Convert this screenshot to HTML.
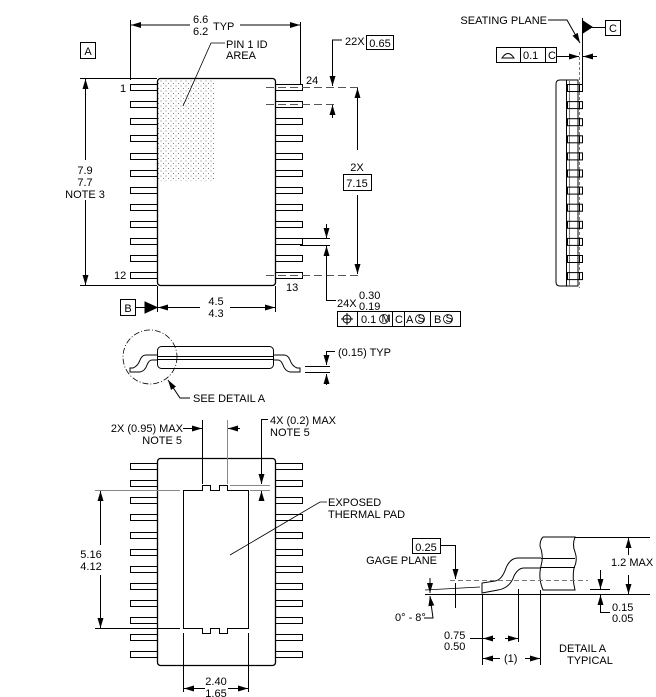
<!DOCTYPE html>
<html><head><meta charset="utf-8"><style>
html,body{margin:0;padding:0;background:#fff}
svg{display:block}
text{font-family:"Liberation Sans",sans-serif;font-size:11px;fill:#000}
</style></head><body>
<svg width="656" height="697" viewBox="0 0 656 697" xmlns="http://www.w3.org/2000/svg">
<defs>
<pattern id="dots" width="5" height="5" patternUnits="userSpaceOnUse"><circle cx="1" cy="1" r="0.5" fill="#555"/><circle cx="3.5" cy="3.5" r="0.5" fill="#555"/></pattern>
<marker id="ar" viewBox="0 0 10 6" refX="10" refY="3" markerWidth="10" markerHeight="6" orient="auto" markerUnits="userSpaceOnUse"><path d="M0,0L10,3L0,6z" fill="#000"/></marker>
</defs>
<g stroke="#000" stroke-width="1" fill="none">
<!-- TOP VIEW -->
<rect x="157.5" y="78.5" width="118" height="207" rx="3" stroke-width="1.3"/>
<rect x="158" y="79" width="57" height="102" fill="url(#dots)" stroke="none"/>
<g id="pins">
<rect x="130.5" y="84.5" width="27" height="6"/><rect x="130.5" y="101.5" width="27" height="6"/><rect x="130.5" y="118.5" width="27" height="6"/><rect x="130.5" y="135.5" width="27" height="6"/><rect x="130.5" y="153.5" width="27" height="6"/><rect x="130.5" y="170.5" width="27" height="6"/><rect x="130.5" y="187.5" width="27" height="6"/><rect x="130.5" y="204.5" width="27" height="6"/><rect x="130.5" y="221.5" width="27" height="6"/><rect x="130.5" y="238.5" width="27" height="6"/><rect x="130.5" y="255.5" width="27" height="6"/><rect x="130.5" y="272.5" width="27" height="6"/>
</g>
<use href="#pins" x="145"/>
<line x1="130.5" y1="20" x2="130.5" y2="80"/><line x1="300.5" y1="22" x2="300.5" y2="84"/>
<line x1="190" y1="25" x2="131" y2="25" marker-end="url(#ar)"/><line x1="240" y1="25" x2="300" y2="25" marker-end="url(#ar)"/>
<polyline points="183,106 211,43 225,43" stroke-width="0.8"/>
<rect x="80.5" y="42.5" width="15" height="16"/>
<line x1="80" y1="78.5" x2="157" y2="78.5"/><line x1="80" y1="285.5" x2="157" y2="285.5"/>
<line x1="85.5" y1="78" x2="85.5" y2="160"/><line x1="85.5" y1="200" x2="85.5" y2="285" marker-end="url(#ar)"/>
<line x1="85.5" y1="130" x2="85.5" y2="79" marker-end="url(#ar)"/>
<g stroke-dasharray="8,4" stroke="#555"><line x1="266" y1="87.5" x2="362" y2="87.5"/><line x1="266" y1="104.5" x2="335" y2="104.5"/><line x1="266" y1="275.5" x2="362" y2="275.5"/></g>
<polyline points="342,40 332.5,40 332.5,86" marker-end="url(#ar)"/>
<line x1="332.5" y1="118" x2="332.5" y2="105" marker-end="url(#ar)"/>
<rect x="366.5" y="35.5" width="27" height="14"/>
<line x1="357.5" y1="150" x2="357.5" y2="88" marker-end="url(#ar)"/><line x1="357.5" y1="195" x2="357.5" y2="274" marker-end="url(#ar)"/>
<rect x="343.5" y="174.5" width="28" height="16"/>
<line x1="300" y1="238.5" x2="330" y2="238.5"/><line x1="300" y1="245.5" x2="330" y2="245.5"/>
<line x1="326.5" y1="224" x2="326.5" y2="238" marker-end="url(#ar)"/>
<polyline points="336,300.5 326.5,300.5 326.5,246" marker-end="url(#ar)"/>
<rect x="337.5" y="311.5" width="123" height="15"/>
<line x1="357.5" y1="311" x2="357.5" y2="327"/><line x1="392.5" y1="311" x2="392.5" y2="327"/><line x1="404.5" y1="311" x2="404.5" y2="327"/><line x1="430.5" y1="311" x2="430.5" y2="327"/>
<circle cx="347" cy="319" r="4"/><line x1="341" y1="319" x2="353" y2="319"/><line x1="347" y1="313" x2="347" y2="325"/>
<circle cx="384" cy="319" r="4.5" stroke-width="0.8"/><circle cx="420" cy="319" r="4.5" stroke-width="0.8"/><circle cx="448" cy="319" r="4.5" stroke-width="0.8"/>
<rect x="120.5" y="299.5" width="15" height="16"/>
<line x1="135" y1="307.5" x2="147" y2="307.5"/>
<line x1="157.5" y1="286" x2="157.5" y2="312"/><line x1="275.5" y1="286" x2="275.5" y2="312"/>
<line x1="200" y1="307.5" x2="158" y2="307.5" marker-end="url(#ar)"/><line x1="230" y1="307.5" x2="275" y2="307.5" marker-end="url(#ar)"/>
<path d="M157,307.5 L145,302 L145,313z" fill="#000"/>
<!-- SIDE VIEW -->
<rect x="157.5" y="346.5" width="116" height="22" rx="4"/>
<line x1="157" y1="356.5" x2="273" y2="356.5"/><line x1="157" y1="359.5" x2="273" y2="359.5"/>
<path d="M157,355 L146,355 Q142,355 140,360 Q138,366 133,368 L130,368 L130,372 L140,372 Q145,371 147,365 Q149,360 152,360 L157,360"/>
<path d="M273,355 L284,355 Q288,355 290,360 Q292,366 297,368 L300,368 L300,372 L290,372 Q285,371 283,365 Q281,360 278,360 L273,360"/>
<circle cx="150" cy="357" r="27" stroke-dasharray="6,2,1,2" stroke-width="0.8"/>
<polyline points="190,398 180,398 168,380" marker-end="url(#ar)"/>
<line x1="305" y1="366.5" x2="330" y2="366.5"/><line x1="305" y1="372.5" x2="330" y2="372.5"/>
<polyline points="335,351.5 326.5,351.5 326.5,365" marker-end="url(#ar)"/>
<line x1="326.5" y1="385" x2="326.5" y2="374" marker-end="url(#ar)"/>
<!-- TOP RIGHT SIDE VIEW -->
<polyline points="548,20 567,20 580,43" marker-end="url(#ar)"/>
<line x1="582.5" y1="18" x2="582.5" y2="87"/>
<path d="M583,21 L592,27 L583,33z" fill="#000"/><line x1="590" y1="27.5" x2="605" y2="27.5"/>
<rect x="605.5" y="20.5" width="15" height="15"/>
<rect x="496.5" y="47.5" width="60" height="15"/>
<line x1="520.5" y1="47" x2="520.5" y2="63"/><line x1="545.5" y1="47" x2="545.5" y2="63"/>
<path d="M502,58 Q508,49 514,58z"/>
<line x1="557" y1="56.5" x2="579" y2="56.5" marker-end="url(#ar)"/>
<line x1="597" y1="56.5" x2="583" y2="56.5" marker-end="url(#ar)"/>
<line x1="579.5" y1="52" x2="579.5" y2="288" stroke-dasharray="3,2" stroke="#777"/>
<path d="M560,80 L578,80 L578,286 L560,286 Q556,286 556,282 L556,84 Q556,80 560,80z"/>
<line x1="566.5" y1="80" x2="566.5" y2="286"/><line x1="569.5" y1="80" x2="569.5" y2="286" stroke="#777"/>
<g id="spins"><rect x="567.5" y="84.5" width="12" height="7"/><rect x="579.5" y="84.5" width="3" height="7"/></g>
<use href="#spins" y="17.1"/><use href="#spins" y="34.2"/><use href="#spins" y="51.3"/><use href="#spins" y="68.4"/><use href="#spins" y="85.5"/><use href="#spins" y="102.6"/><use href="#spins" y="119.7"/><use href="#spins" y="136.8"/><use href="#spins" y="153.9"/><use href="#spins" y="171"/><use href="#spins" y="188.1"/>
<!-- BOTTOM VIEW -->
<rect x="157.5" y="458.5" width="118" height="207" rx="3" stroke-width="1.3"/>
<use href="#pins" y="379"/><use href="#pins" x="145" y="379"/>
<path d="M183.5,490.5 L202.5,490.5 L202.5,485.5 L210.5,485.5 L210.5,490.5 L219.5,490.5 L219.5,485.5 L227.5,485.5 L227.5,490.5 L248.5,490.5 L248.5,628.5 L227.5,628.5 L227.5,633.5 L219.5,633.5 L219.5,628.5 L210.5,628.5 L210.5,633.5 L202.5,633.5 L202.5,628.5 L183.5,628.5z"/>
<line x1="202.5" y1="420" x2="202.5" y2="484"/><line x1="227.5" y1="420" x2="227.5" y2="484" stroke="#888"/>
<line x1="183" y1="428.5" x2="202" y2="428.5" marker-end="url(#ar)"/><line x1="240" y1="428.5" x2="228" y2="428.5" marker-end="url(#ar)"/>
<polyline points="268,419.5 261.5,419.5 261.5,484" marker-end="url(#ar)"/>
<line x1="261.5" y1="500" x2="261.5" y2="491" marker-end="url(#ar)"/>
<line x1="230" y1="485.5" x2="270" y2="485.5" stroke="#888"/><line x1="250" y1="490.5" x2="270" y2="490.5" stroke="#888"/>
<line x1="95" y1="490.5" x2="180" y2="490.5" stroke="#888"/><line x1="95" y1="628.5" x2="180" y2="628.5"/>
<line x1="100.5" y1="545" x2="100.5" y2="491" marker-end="url(#ar)"/><line x1="100.5" y1="575" x2="100.5" y2="628" marker-end="url(#ar)"/>
<line x1="183.5" y1="633" x2="183.5" y2="692"/><line x1="248.5" y1="633" x2="248.5" y2="692"/>
<line x1="205" y1="688.5" x2="184" y2="688.5" marker-end="url(#ar)"/><line x1="228" y1="688.5" x2="248" y2="688.5" marker-end="url(#ar)"/>
<polyline points="230,555 320,502 327,502" stroke-width="0.8"/>
<!-- DETAIL A -->
<path d="M543,537 L575,537 Q572,545 575,552 Q578,560 574,568 Q572,578 575,590 L543,590 Q538,578 541,566 Q544,556 540,546 Q540,540 543,537z"/>
<line x1="541" y1="558.5" x2="575" y2="558.5"/><line x1="541" y1="567.5" x2="575" y2="567.5"/>
<path d="M541,558 L518,558 Q510,558 506,568 Q502,580 495,581 L482,583 L482,593 L498,590 Q510,588 514,576 Q518,568 524,568 L541,568"/>
<line x1="450" y1="580.5" x2="588" y2="580.5" stroke-dasharray="5,3" stroke="#777"/>
<line x1="425" y1="594.5" x2="650" y2="594.5"/>
<line x1="425" y1="590" x2="480" y2="587" stroke-width="0.8"/>
<rect x="412.5" y="538.5" width="28" height="15"/>
<polyline points="440,545.5 455.5,545.5 455.5,579" marker-end="url(#ar)"/>
<line x1="455.5" y1="583" x2="455.5" y2="608"/>
<line x1="575" y1="537.5" x2="650" y2="537.5"/>
<line x1="628.5" y1="555" x2="628.5" y2="538" marker-end="url(#ar)"/><line x1="628.5" y1="575" x2="628.5" y2="594" marker-end="url(#ar)"/>
<line x1="590" y1="589.5" x2="610" y2="589.5"/>
<line x1="600.5" y1="570" x2="600.5" y2="589" marker-end="url(#ar)"/>
<polyline points="610,612.5 600.5,612.5 600.5,595" marker-end="url(#ar)"/>
<line x1="430" y1="578" x2="430" y2="593" marker-end="url(#ar)"/>
<polyline points="424,618 433,618 430,596" marker-end="url(#ar)"/>
<line x1="482.5" y1="594" x2="482.5" y2="665"/><line x1="518.5" y1="589" x2="518.5" y2="642"/><line x1="540.5" y1="590" x2="540.5" y2="665"/>
<line x1="470" y1="638.5" x2="482" y2="638.5"/>
<line x1="495" y1="638.5" x2="483" y2="638.5" marker-end="url(#ar)"/><line x1="505" y1="638.5" x2="518" y2="638.5" marker-end="url(#ar)"/>
<line x1="500" y1="658.5" x2="483" y2="658.5" marker-end="url(#ar)"/><line x1="525" y1="658.5" x2="540" y2="658.5" marker-end="url(#ar)"/>
</g>
<!-- TEXT -->
<text x="193" y="23">6.6</text><text x="193" y="35">6.2</text><text x="213" y="30">TYP</text>
<text x="226" y="48">PIN 1 ID</text><text x="226" y="59">AREA</text>
<text x="88" y="55" text-anchor="middle">A</text>
<text x="85" y="174" text-anchor="middle">7.9</text><text x="85" y="186" text-anchor="middle">7.7</text><text x="85" y="198" text-anchor="middle">NOTE 3</text>
<text x="120" y="92">1</text><text x="114" y="279">12</text><text x="306" y="84">24</text><text x="286" y="291">13</text>
<text x="345" y="45">22X</text><text x="380" y="47" text-anchor="middle">0.65</text>
<text x="357" y="171" text-anchor="middle">2X</text><text x="357" y="187" text-anchor="middle">7.15</text>
<text x="337" y="307" font-size="10">24X</text><text x="359" y="299" font-size="10">0.30</text><text x="359" y="310" font-size="10">0.19</text>
<text x="361" y="323">0.1</text><text x="381.5" y="322" font-size="7">M</text><text x="395" y="323">C</text><text x="406" y="323">A</text><text x="417.5" y="322" font-size="7">S</text><text x="434" y="323">B</text><text x="445.5" y="322" font-size="7">S</text>
<text x="128" y="312" text-anchor="middle">B</text>
<text x="216" y="305" text-anchor="middle">4.5</text><text x="216" y="317" text-anchor="middle">4.3</text>
<text x="193" y="402">SEE DETAIL A</text>
<text x="338" y="356">(0.15) TYP</text>
<text x="547" y="24" text-anchor="end">SEATING PLANE</text>
<text x="613" y="32" text-anchor="middle">C</text>
<text x="523" y="59">0.1</text><text x="548" y="59">C</text>
<text x="183" y="432" text-anchor="end">2X (0.95) MAX</text><text x="182" y="444" text-anchor="end">NOTE 5</text>
<text x="270" y="424">4X (0.2) MAX</text><text x="270" y="436">NOTE 5</text>
<text x="328" y="506">EXPOSED</text><text x="328" y="518">THERMAL PAD</text>
<text x="91" y="558" text-anchor="middle">5.16</text><text x="91" y="570" text-anchor="middle">4.12</text>
<text x="216" y="685" text-anchor="middle">2.40</text><text x="216" y="697" text-anchor="middle">1.65</text>
<text x="426" y="551" text-anchor="middle">0.25</text>
<text x="437" y="564" text-anchor="end">GAGE PLANE</text>
<text x="611" y="566">1.2 MAX</text>
<text x="612" y="611">0.15</text><text x="612" y="622">0.05</text>
<text x="395" y="621">0° - 8°</text>
<text x="444" y="639">0.75</text><text x="444" y="650">0.50</text>
<text x="504" y="662">(1)</text>
<text x="559" y="652" font-size="16">DETAIL A</text><text x="567" y="664" font-size="10.5">TYPICAL</text>
</svg>
</body></html>
